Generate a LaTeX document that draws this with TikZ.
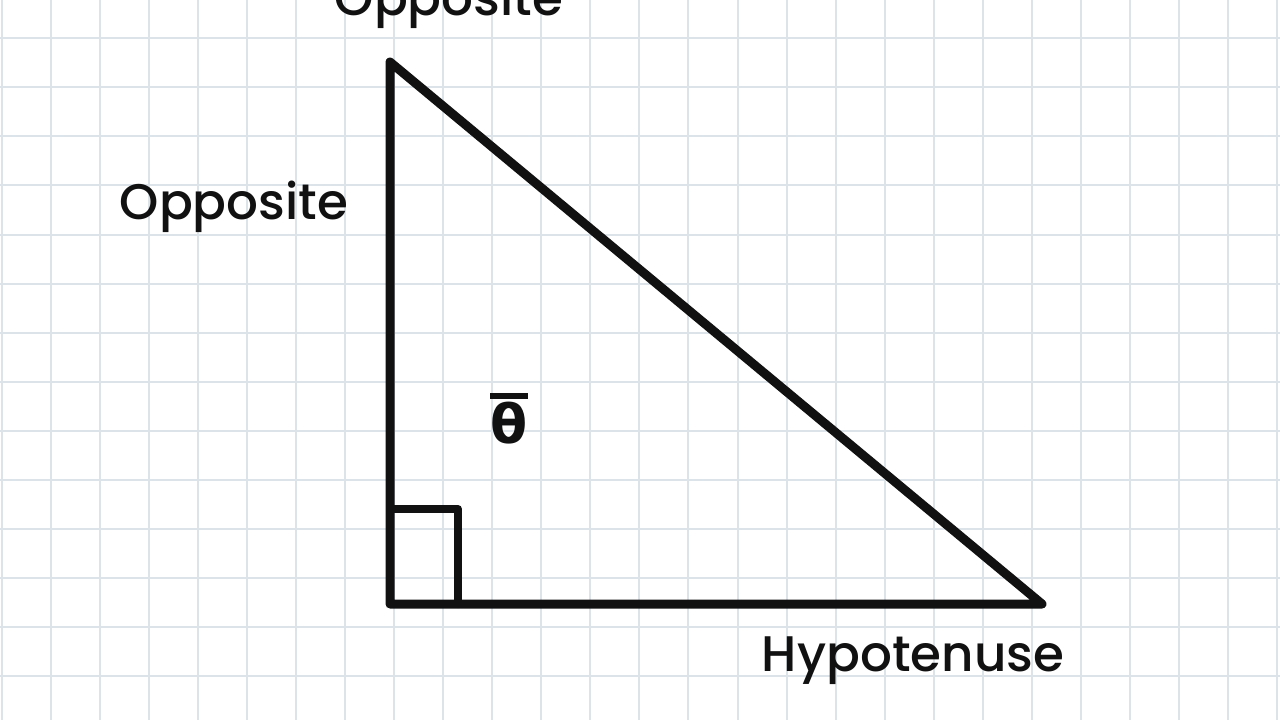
\documentclass[tikz,border=0pt]{standalone}
\usepackage{fontspec}
\setmainfont{Poppins}[UprightFont={* Medium}]
\newfontfamily\grk{DejaVu Sans}
\definecolor{ink}{HTML}{111111}
\definecolor{gridline}{HTML}{DCE3E9}
\begin{document}
\begin{tikzpicture}[x=1pt, y=-1pt, line join=round, line cap=round,
	lbl/.style={font=\fontsize{50}{50}\selectfont, text=ink, inner sep=0pt, anchor=base}]
	\useasboundingbox (0,0) rectangle (1280,720);
	\fill[white] (0,0) rectangle (1280,720);
	% graph paper
	\foreach \i in {0,...,26}{
		\draw[gridline, line width=2] (1.6+49.06*\i,0)--(1.6+49.06*\i,720);
	}
	\foreach \j in {1,...,14}{
		\draw[gridline, line width=2] (0,-10.8+49.06*\j)--(1280,-10.8+49.06*\j);
	}
	\path (390,62) coordinate (A) (390,604) coordinate (C) (1042,604) coordinate (B);
	\draw[ink, line width=9] (A)--(C)--(B)--cycle;
	\draw[ink, line width=8] (C) ++(0,-95) -| ++(68,95);
	\node[lbl] (top) at (449,15) {Opposite};
	\node[lbl] (opp) at (234,219) {Opposite};
	\node[lbl] (hyp) at (913,671) {Hypotenuse};
	\node[font=\grk\bfseries\fontsize{54}{54}\selectfont, text=ink, inner sep=0pt] (theta) at (509,419)
		{\vbox{\hrule height 6pt\kern 3pt\hbox{θ}}};
\end{tikzpicture}
\end{document}
